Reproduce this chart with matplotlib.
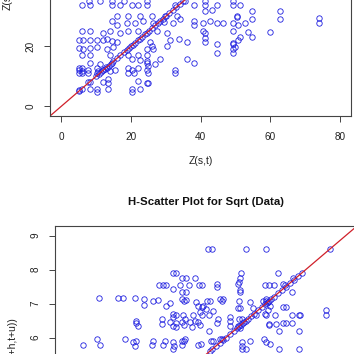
import matplotlib
matplotlib.use("Agg")
import matplotlib.pyplot as plt
import numpy as np

plt.rcParams['font.family'] = ['Liberation Sans', 'DejaVu Sans']

# ---------------- data: top panel (raw data) ----------------
TOP_X = [5.9, 8.3, 14.5, 16.9, 20.3, 22.2, 24.6, 32.7, 38, 41.3, 44.7, 49.4, 51.4,
         8.1, 11.2, 14.5, 17.9, 24.6, 35.6, 41.3, 49.4,
         16, 19.3, 22.7, 26, 29.8, 33.2, 41.3, 43.2, 50.4, 54.7, 62.8, 74, 74, 62.8, 54.7, 50.6,
         14.5, 16, 18.8, 21.2, 23.6, 26.5, 29.4, 32.2, 34.1, 38, 38, 40.8, 42.8, 44.7, 46.6, 49.4, 50.9, 52.8,
         5.9, 8.3, 12.1, 14.1, 16.9, 19.3, 22.2, 27.4, 30.3, 40.8, 41.3, 49.4, 53.7, 54.7, 60, 51.4,
         5, 6.4, 8.3, 10.2, 12.1, 13.1, 14.5, 16, 25.5, 31.3, 33.7, 36.1, 41.3, 41.3, 49.4, 50.9, 44.7,
         5, 6.4, 8.3, 10.2, 13.1, 15, 24.6, 26, 26.5, 30.3, 49.4, 49.4, 49.9,
         5.9, 8.3, 14.1, 19.3, 22.2, 24.6, 49.4, 44.7,
         8.3, 11.2, 14.5, 20.3, 22.7, 24.6, 28.4, 36.1, 38, 27, 24.6,
         5, 5, 5, 5.9, 5.9, 5.9, 7.8, 7.8, 10.2, 10.7, 10.2, 12.1, 13.1, 14.1, 15.5, 19.3, 20.3, 19.3,
         20.8, 22.2, 24.6, 25, 25, 32.7, 32.7,
         7.8, 12.1, 13.5, 13.5, 22.2, 24.6, 25,
         5, 5.9, 8.3, 10.2, 10.2, 13.5, 20.3, 20.3, 22.7]
TOP_Y = [33.7] * 13 + [35.1] * 8 + \
        [30.3, 30.3, 30.3, 30.3, 30.3, 30.3, 31.8, 32.1, 30.3, 31.8, 31.8, 29.6, 27.7, 29.2, 29.2, 29.9] + \
        [28.4, 27, 27.9, 27.7, 28.4, 27.9, 28.1, 27.7, 29, 28.4, 27, 27.9, 28.4, 27.9, 27.7, 27.9, 27, 27.9] + \
        [25.1, 25.1, 24.6, 25.1, 24.6, 25.1, 25.1, 25.1, 24.6, 25.1, 24.6, 25.1, 24.8, 23.2, 24.8, 23.2] + \
        [22.3, 22.3, 22.1, 22.3, 22.1, 22.6, 21.8, 21.4, 21.4, 22.3, 22.6, 21.4, 22.9, 21.4, 21.2, 22.1, 20.7] + \
        [19.6, 19.2, 19.6, 19.9, 19.2, 19.9, 19.2, 20.1, 19.2, 20.1, 20.7, 19.2, 19.9] + \
        [17, 17, 17.3, 17, 17, 17.3, 17.7, 17.9] + \
        [14.6, 14, 14.6, 15.7, 15.4, 15.1, 15.7, 15.7, 14.6, 14.3, 14.6] + \
        [12.9, 12.1, 11, 12.9, 11.8, 11, 12.3, 11, 12.9, 11.8, 11, 12.1, 12.9, 11.8, 12.3, 12.9, 12.1, 11,
         11, 12.9, 12.1, 11, 13.4, 12.1, 11] + \
        [8.1, 8.1, 9, 7.9, 8.4, 7.9, 7.9] + \
        [5.4, 5.9, 5.9, 5.7, 4.8, 5.9, 5.9, 4.8, 5.9]
TOP_DIAG = [5.2, 8.3, 10, 10.8, 11.5, 12, 12.5, 13, 13.6, 14.2, 15, 16, 17, 18, 18.8, 19.5,
            20, 20.6, 21.2, 22, 22.6, 23.3, 24, 24.6, 25.3, 26, 27, 27.7, 28.4, 29.3, 30, 31,
            32, 33, 34, 35]

# ---------------- data: bottom panel (sqrt data) ----------------
BOT_X = [5.55, 5.64, 6.5, 6.99,
         4.68, 4.76, 4.89, 5.01, 5.22, 6.37, 6.36, 6.33, 7.31, 7.68,
         4.33, 4.43, 4.49, 4.85, 5.07, 5.33, 5.39, 5.78, 5.78, 6.3, 6.97, 7.08, 7.2, 7.43, 7.47, 7.66,
         4.68, 4.89, 5.01, 6.35, 6.35,
         2.81, 3.3, 3.43, 3.72, 3.95, 3.95, 4.18, 4.3, 4.5, 4.6, 4.89, 4.95, 5.01, 5.26, 5.3,
         5.53, 5.61, 5.86, 5.93, 5.89, 6.33, 6.6, 6.93, 7.01, 6.99, 7.11,
         5.39, 5.43, 5.68, 5.51, 6.3, 6.36, 6.68, 7.06, 7.43, 7.51, 7.66, 7.85, 8.51, 8.51,
         4.68, 4.68, 4.76, 4.93, 4.97, 5.18, 5.22, 5.35, 5.39, 5.57, 5.8, 6.1, 6.11, 6.33, 6.39,
         6.75, 6.97, 7.01, 7.22, 7.26, 7.43, 7.51, 7.66, 7.83,
         4.39, 4.39, 4.6, 4.68, 4.75, 4.76, 4.89, 4.95, 5.11, 5.14, 5.3, 5.35, 5.58, 5.78, 6.1,
         6.3, 6.35, 7.08, 7.08, 7.33, 7.83,
         3.76, 3.76, 3.79,
         2.76, 2.85, 2.43, 3.47, 3.68, 3.72, 3.76, 4.18, 4.14, 4.47, 4.43, 4.68, 4.7, 4.68,
         4.89, 4.95, 4.91, 4.97, 5.3, 5.37, 5.62, 5.68, 5.85, 5.91, 6.39, 6.39, 6.6, 6.94, 7.01, 7.09,
         6.39, 6.5, 7.33, 7.83]
BOT_Y = [8.61, 8.61, 8.61, 8.61,
         7.9, 7.9, 7.75, 7.75, 7.75, 7.9, 7.75, 7.63, 7.9, 7.75,
         7.53, 7.53, 7.53, 7.53, 7.53, 7.53, 7.53, 7.58, 7.48, 7.58, 7.53, 7.53, 7.55, 7.58, 7.53, 7.33,
         7.43, 7.33, 7.33, 7.33, 7.4,
         7.16, 7.16, 7.16, 7.16, 7.14, 6.97, 7.06, 7.09, 6.94, 7.02, 7.14, 7.06, 7.09, 7.04, 6.94,
         7.06, 7.06, 7.14, 7.14, 7.06, 7.06, 7.04, 7.06, 7.06, 7.14, 6.94,
         6.89, 6.94, 6.79, 6.84, 6.86, 6.86, 6.86, 6.82, 6.89, 6.89, 6.65, 6.67, 6.81, 6.65,
         6.7, 6.6, 6.65, 6.65, 6.55, 6.65, 6.5, 6.75, 6.65, 6.65, 6.55, 6.6, 6.5, 6.55, 6.55,
         6.65, 6.7, 6.65, 6.65, 6.4, 6.43, 6.43, 6.43, 6.65,
         6.55, 6.4, 6.45, 6.35, 6.42, 6.3, 6.45, 6.37, 6.45, 6.3, 6.45, 6.37, 6.19, 6.43, 6.35,
         6.35, 6.27, 6.4, 6.36, 6.18, 6.18,
         6.5, 6.43, 6.35,
         5.96, 5.79, 5.79, 5.96, 5.86, 5.76, 5.91, 5.91, 5.79, 5.91, 5.79, 5.86, 5.76, 5.67,
         5.91, 5.91, 5.79, 5.96, 5.79, 5.81, 5.89, 5.91, 5.96, 5.96, 5.86, 5.76, 5.91, 5.96, 5.86, 5.81,
         5.67, 5.67, 5.67, 5.67]
BOT_DIAG = [5.6, 5.65, 5.75, 5.85, 5.92, 6.0, 6.1, 6.2, 6.28, 6.33, 6.38, 6.42, 6.46, 6.5,
            6.55, 6.62, 6.7, 6.8, 6.9, 6.98, 7.02, 7.05, 7.08, 7.12, 7.2, 7.3, 7.4, 7.5,
            7.6, 7.7, 7.8, 7.9, 8.6]

# only the ticks that fall inside the visible window
TOP_XTICKS = [0, 20, 40, 60, 80]
TOP_YTICKS = [0, 20]
BOT_YTICKS = [6, 7, 8, 9]

W = H = 354
fig = plt.figure(figsize=(W / 100, H / 100), dpi=100)


def px_rect(left, top, right, bottom):
    return [left / W, (H - bottom) / H, (right - left) / W, (bottom - top) / H]


def style(ax):
    for s in ax.spines.values():
        s.set_color('#444444')
        s.set_linewidth(0.8)
    ax.tick_params(direction='out', length=4.3, width=0.7, color='#444444',
                   labelsize=7.2, labelcolor='#222222')
    ax.tick_params(axis='x', pad=7.5)
    ax.tick_params(axis='y', pad=6, labelrotation=90)
    for lab in ax.get_yticklabels():
        lab.set_va('center')


mk = dict(marker='o', linestyle='none', markerfacecolor='none',
          markeredgecolor='#2020e0', markersize=3.9, markeredgewidth=0.6)

# top panel
ax1 = fig.add_axes(px_rect(50, -143, 351, 116))
ax1.plot(TOP_X, TOP_Y, **mk)
ax1.plot(TOP_DIAG, TOP_DIAG, **mk)
ax1.set_xlim(-3.2, 83.2)
ax1.set_ylim(-3.2, 83.2)
ax1.axline((0, 0), slope=1, color='#d0202a', lw=0.9)
ax1.set_xticks(TOP_XTICKS)
ax1.set_yticks(TOP_YTICKS)
style(ax1)
ax1.set_xlabel('Z(s,t)', fontsize=7.5, color='#222222', labelpad=10)
ax1.set_ylabel('Z(s+h,t+u)', fontsize=7.5, color='#222222')
ax1.yaxis.set_label_coords(-0.14, 0.5)
ax1.yaxis.label.set_va('center')

# bottom panel
ax2 = fig.add_axes(px_rect(55, 226, 357, 483))
ax2.plot(BOT_X, BOT_Y, **mk)
ax2.plot(BOT_DIAG, BOT_DIAG, **mk)
ax2.set_xlim(1.72, 9.28)
ax2.set_ylim(1.72, 9.28)
ax2.axline((2, 2), slope=1, color='#d0202a', lw=0.9)
ax2.set_xticks([])
ax2.set_yticks(BOT_YTICKS)
style(ax2)
ax2.set_ylabel('Sqrt(Z(s+h,t+u))', fontsize=7.5, color='#222222')
ax2.yaxis.set_label_coords(-0.142, 0.5)
ax2.yaxis.label.set_va('center')

fig.text(206 / W, 1 - 202 / H, 'H-Scatter Plot for Sqrt (Data)', ha='center', va='center',
         fontsize=8.2, fontweight='bold', color='#111111')

fig.savefig('out.png', dpi=100)
